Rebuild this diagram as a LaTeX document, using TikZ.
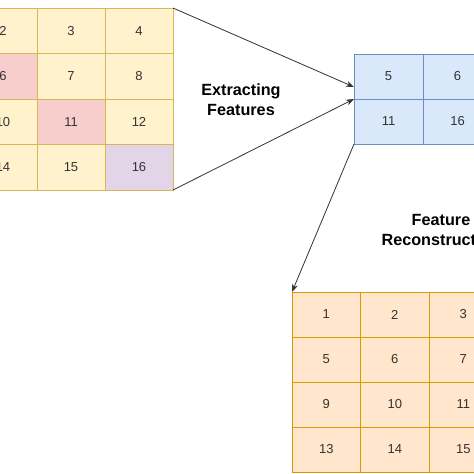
\documentclass[tikz,border=0pt]{standalone}
\usepackage{fontspec}
\setmainfont{Liberation Sans}
\usetikzlibrary{arrows.meta}
\usetikzlibrary{positioning}

\definecolor{numgray}{HTML}{333333}
\definecolor{yfill}{HTML}{FFF2CC}
\definecolor{ydraw}{HTML}{D6B656}
\definecolor{pfill}{HTML}{F8CECC}
\definecolor{vfill}{HTML}{E1D5E7}
\definecolor{bfill}{HTML}{DAE8FC}
\definecolor{bdraw}{HTML}{6C8EBF}
\definecolor{ofill}{HTML}{FFE6CC}
\definecolor{odraw}{HTML}{D79B00}
\definecolor{arrowgray}{HTML}{333333}

\tikzset{
  cell/.style={draw, line width=0.8pt, outer sep=0pt, inner sep=0pt, text=numgray, font=\fontsize{13}{15}\selectfont},
  ycell/.style={cell, draw=ydraw, fill=yfill, minimum width=68pt, minimum height=45.5pt},
  bcell/.style={cell, draw=bdraw, fill=bfill, minimum width=69pt, minimum height=45pt},
  ocell/.style={cell, draw=odraw, fill=ofill, minimum width=68.5pt, minimum height=45pt},
  hl6/.style={fill=pfill},
  hl11/.style={fill=pfill},
  hl16/.style={fill=vfill},
  conn/.style={-{Stealth[length=8pt, width=6pt]}, draw=arrowgray, line width=0.8pt},
  stage/.style={align=center, font=\bfseries\fontsize{16.2}{20}\selectfont},
}

\begin{document}
\begin{tikzpicture}[x=1pt, y=-1pt]
        \path[fill=white, use as bounding box] (0,0) rectangle (474,474);
        \foreach \r in {0,...,3}
          \foreach \c in {1,...,3}{
            \pgfmathtruncatemacro{\n}{4*\r+\c+1}
            \node[ycell, hl\n/.try] (l\n) at (-65+68*\c, 30.75+45.5*\r) {\n};
          }
        \node[bcell] (b5) at (388.5, 76.5) {5};
        \node[bcell, right=0pt of b5] (b6) {6};
        \node[bcell, below=0pt of b5] (b11) {11};
        \node[bcell, right=0pt of b11] (b16) {16};
        \foreach \r in {0,...,3}
          \foreach \c in {0,...,2}{
            \pgfmathtruncatemacro{\n}{4*\r+\c+1}
            \node[ocell] (o\n) at (326.25+68.5*\c, 314.5+45*\r) {\n};
          }
        \node[stage] (extract) at (241, 100) {Extracting\\Features};
        \node[stage] (recon) at (441, 230) {Feature\\Reconstruction};
        \coordinate (in5) at ([yshift=12pt]b5.south west);
        \draw[conn] (l4.north east) -- (in5);
        \draw[conn] (l16.south east) -- (b5.south west);
        \draw[conn] (b11.south west) -- (o1.north west);
      \end{tikzpicture}
\end{document}
